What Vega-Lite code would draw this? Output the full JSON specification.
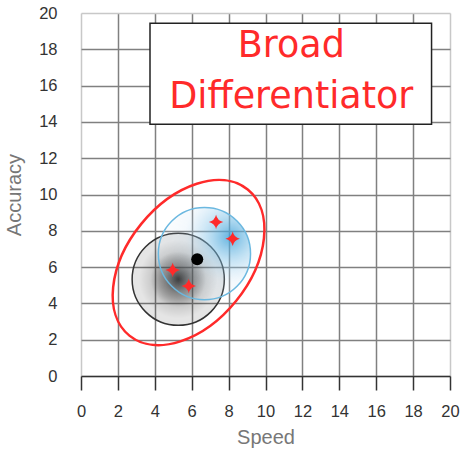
{
  "$schema": "https://vega.github.io/schema/vega-lite/v6.json",
  "width": 369,
  "height": 363,
  "autosize": {"type": "none"},
  "padding": {"left": 81, "top": 13, "right": 20, "bottom": 84},
  "background": "white",
  "config": {"view": {"stroke": null}, "font": "Liberation Sans"},
  "encoding": {
    "x": {
      "field": "speed",
      "type": "quantitative",
      "scale": {"domain": [0, 20], "nice": false, "zero": false},
      "axis": {
        "values": [0, 2, 4, 6, 8, 10, 12, 14, 16, 18, 20],
        "grid": true,
        "gridColor": {"condition": {"test": "datum.value === 0 || datum.value === 20", "value": "#c8c8c8"}, "value": "#808080"},
        "gridWidth": 1.5,
        "domainColor": "#333333",
        "domainWidth": 1.5,
        "tickColor": "#333333",
        "tickWidth": 1.5,
        "tickSize": 14,
        "labelFontSize": 16.5,
        "labelColor": "#333333",
        "labelPadding": 13,
        "labelFlush": false,
        "title": "Speed",
        "titleFontSize": 20,
        "titleFontWeight": "normal",
        "titleColor": "#777777",
        "titlePadding": 8
      }
    },
    "y": {
      "field": "accuracy",
      "type": "quantitative",
      "scale": {"domain": [0, 20], "nice": false, "zero": false},
      "axis": {
        "values": [0, 2, 4, 6, 8, 10, 12, 14, 16, 18, 20],
        "grid": true,
        "gridColor": {"condition": {"test": "datum.value === 0 || datum.value === 20", "value": "#c8c8c8"}, "value": "#808080"},
        "gridWidth": 1.5,
        "domain": false,
        "ticks": false,
        "labelFontSize": 16.5,
        "labelColor": "#333333",
        "labelPadding": 24,
        "labelFlush": false,
        "title": "Accuracy",
        "titleFontSize": 20,
        "titleFontWeight": "normal",
        "titleColor": "#777777",
        "titlePadding": 14
      }
    }
  },
  "layer": [
    {
      "data": {"values": [{"speed": 5.27, "accuracy": 5.33}]},
      "mark": {
        "type": "point",
        "shape": "circle",
        "size": 8500,
        "filled": true,
        "opacity": 1,
        "fill": {
          "gradient": "radial",
          "x1": 0.5, "y1": 0.5, "r1": 0,
          "x2": 0.5, "y2": 0.5, "r2": 0.5,
          "stops": [
            {"offset": 0, "color": "rgba(25,25,25,0.9)"},
            {"offset": 0.3, "color": "rgba(50,50,50,0.6)"},
            {"offset": 0.6, "color": "rgba(0,0,0,0.2)"},
            {"offset": 0.85, "color": "rgba(0,0,0,0.1)"},
            {"offset": 1, "color": "rgba(0,0,0,0.1)"}
          ]
        },
        "stroke": "#333333",
        "strokeWidth": 1.5
      }
    },
    {
      "data": {"values": [{"speed": 6.69, "accuracy": 6.74}]},
      "mark": {
        "type": "point",
        "shape": "circle",
        "size": 8500,
        "filled": true,
        "opacity": 1,
        "fill": {
          "gradient": "radial",
          "x1": 0.78, "y1": 0.32, "r1": 0,
          "x2": 0.78, "y2": 0.32, "r2": 0.7,
          "stops": [
            {"offset": 0, "color": "rgba(60,160,215,0.8)"},
            {"offset": 0.35, "color": "rgba(120,190,230,0.45)"},
            {"offset": 0.7, "color": "rgba(180,215,240,0.15)"},
            {"offset": 1, "color": "rgba(200,225,245,0.08)"}
          ]
        },
        "stroke": "#6bb8e0",
        "strokeWidth": 1.5
      }
    },
    {
      "data": {"values": [{"speed": 5.83, "accuracy": 6.25}]},
      "mark": {
        "type": "point",
        "shape": "M-1,0 A1,0.65 0 1,1 1,0 A1,0.65 0 1,1 -1,0 Z",
        "size": 35344,
        "angle": 309,
        "filled": false,
        "opacity": 1,
        "color": "#ff2a2a",
        "strokeWidth": 2.5
      }
    },
    {
      "data": {"values": [
        {"speed": 7.32, "accuracy": 8.48},
        {"speed": 8.22, "accuracy": 7.56},
        {"speed": 4.97, "accuracy": 5.84},
        {"speed": 5.84, "accuracy": 4.96}
      ]},
      "mark": {
        "type": "point",
        "shape": "M0,-1 Q0.18,-0.18 1,0 Q0.18,0.18 0,1 Q-0.18,0.18 -1,0 Q-0.18,-0.18 0,-1 Z",
        "size": 210,
        "filled": true,
        "opacity": 1,
        "color": "#ff2a2a"
      }
    },
    {
      "data": {"values": [{"speed": 6.3, "accuracy": 6.43}]},
      "mark": {"type": "point", "shape": "circle", "size": 144, "filled": true, "opacity": 1, "color": "#000000"}
    },
    {
      "data": {"values": [{"speed": 3.74, "speed2": 19.0, "accuracy": 19.43, "accuracy2": 13.87}]},
      "mark": {"type": "rect", "fill": "white", "stroke": "#222222", "strokeWidth": 1.5},
      "encoding": {
        "x2": {"field": "speed2"},
        "y2": {"field": "accuracy2"}
      }
    },
    {
      "data": {"values": [
        {"speed": 11.4, "accuracy": 17.58, "label": "Broad"},
        {"speed": 11.4, "accuracy": 14.74, "label": "Differentiator"}
      ]},
      "mark": {
        "type": "text",
        "align": "center",
        "baseline": "alphabetic",
        "font": "DejaVu Sans",
        "fontSize": 36.5,
        "color": "#ff2a2a"
      },
      "encoding": {"text": {"field": "label"}}
    }
  ]
}
